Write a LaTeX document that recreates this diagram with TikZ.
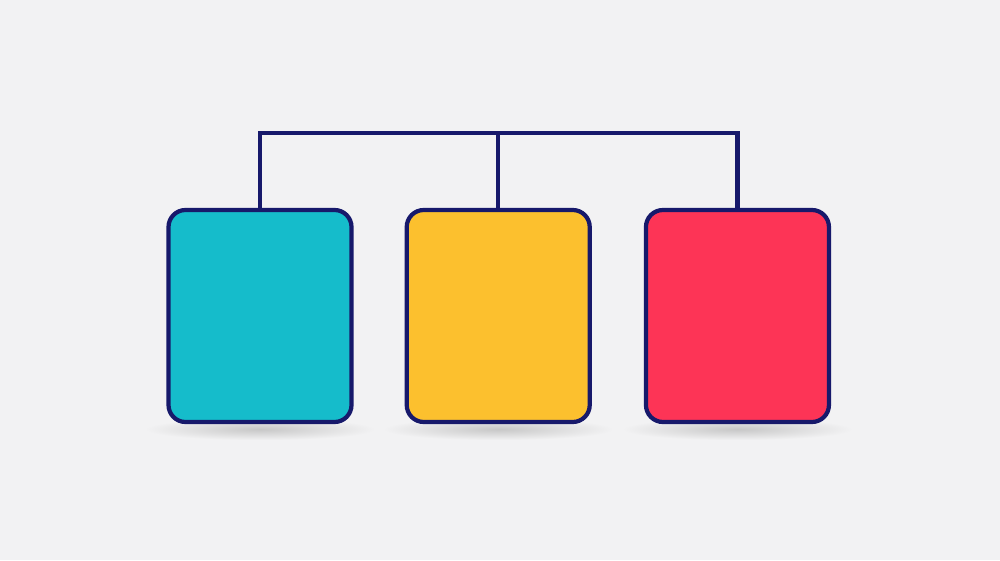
\documentclass[tikz,border=0pt]{standalone}
\usetikzlibrary{positioning,backgrounds}
\definecolor{taustaväri}{HTML}{F2F2F3}
\definecolor{laivasto}{HTML}{17196B}
\definecolor{turkoosi}{HTML}{15BCCB}
\definecolor{keltainen}{HTML}{FCC02E}
\definecolor{punainen}{HTML}{FD3456}
\begin{document}
\begin{tikzpicture}[laatikko/.style = {draw=laivasto, line width=1.2pt, rounded corners=0.17cm, minimum width=1.83cm, minimum height=2.12cm, inner sep=0pt},
	janat/.style = {draw=laivasto, line width=1.2pt}]
		\useasboundingbox (0,0) rectangle (10,5.6);
		%Laatikot
		\node[laatikko, fill=turkoosi] (sininen) at (2.60,2.44) {};
		\node[laatikko, fill=keltainen, right=0.51cm of sininen] (keltainen) {};
		\node[laatikko, fill=punainen, right=0.52cm of keltainen] (punainen) {};
		\coordinate (ylin) at (0,4.27);
		% Janat
		\draw[janat] (sininen.north) -- (sininen.north |- ylin) -| (punainen.north);	% sininen-punainen
		\draw[janat] (keltainen.north) -- (keltainen.north |- ylin);			% keltainen
		% Tausta ja varjot
		\begin{scope}[on background layer]
		\fill[taustaväri] (0,0) rectangle (10,5.6);
		\foreach \l in {sininen, keltainen, punainen}
			\shade[inner color=black!22, outer color=taustaväri] ([yshift=-0.05cm]\l.south) ellipse (1.15cm and 0.11cm);
		\end{scope}
\end{tikzpicture}
\end{document}
